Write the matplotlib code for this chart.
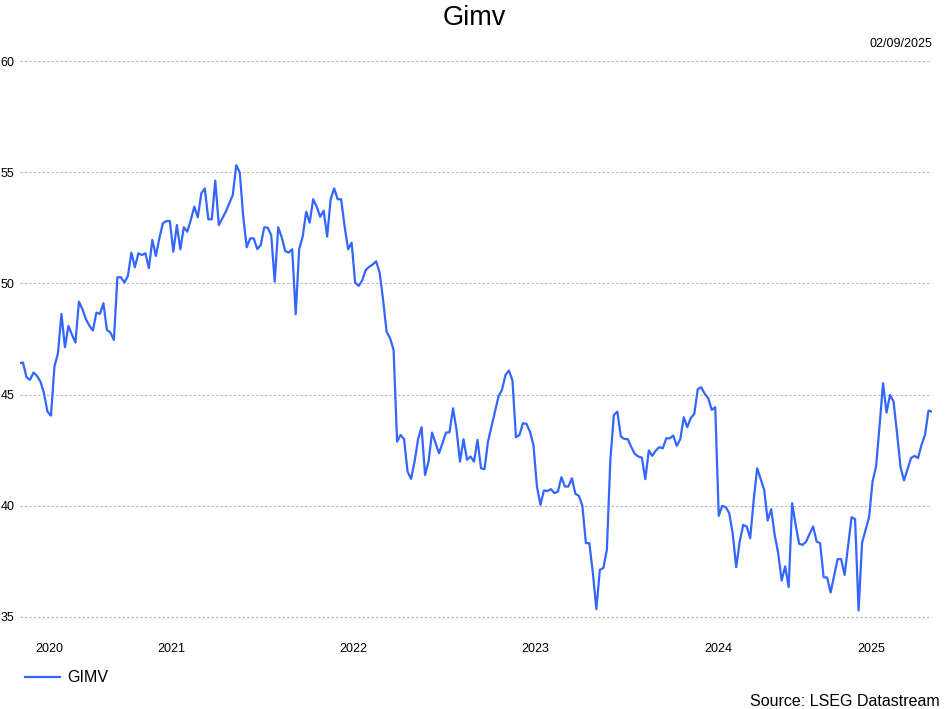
import matplotlib
matplotlib.use("Agg")
import matplotlib.pyplot as plt
import matplotlib.dates as mdates
import pandas as pd
import numpy as np

plt.rcParams['font.family'] = ['Liberation Sans', 'DejaVu Sans']

# ---- data ----
title = "Gimv"
series_name = "GIMV"
date_label = "02/09/2025"
source_label = "Source: LSEG Datastream"
start_date = "2020-09-02"
n_weeks = 262
year_labels = ["2020", "2021", "2022", "2023", "2024", "2025"]
y_ticks = [35, 40, 45, 50, 55, 60]

gimv_values = [
    46.41, 46.44, 45.78, 45.66, 45.99, 45.84, 45.58, 45.06, 44.23, 44.05,
    46.26, 46.86, 48.63, 47.13, 48.09, 47.70, 47.34, 49.18, 48.84, 48.39,
    48.10, 47.88, 48.69, 48.63, 49.11, 47.91, 47.79, 47.46, 50.28, 50.28,
    50.04, 50.34, 51.39, 50.73, 51.36, 51.28, 51.36, 50.69, 51.96, 51.24,
    52.03, 52.71, 52.81, 52.81, 51.43, 52.63, 51.54, 52.53, 52.33, 52.86,
    53.46, 52.98, 54.06, 54.28, 52.89, 52.89, 54.63, 52.63, 52.93, 53.23,
    53.60, 53.98, 55.33, 54.99, 53.00, 51.63, 52.03, 52.03, 51.55, 51.73,
    52.53, 52.51, 52.18, 50.08, 52.53, 52.08, 51.46, 51.39, 51.54, 48.61,
    51.54, 52.11, 53.23, 52.74, 53.79, 53.46, 53.00, 53.28, 52.11, 53.79,
    54.28, 53.79, 53.79, 52.56, 51.54, 51.84, 50.04, 49.89, 50.13, 50.60,
    50.75, 50.85, 51.00, 50.50, 49.26, 47.83, 47.53, 47.01, 42.88, 43.18,
    42.99, 41.53, 41.20, 41.98, 42.99, 43.53, 41.38, 41.98, 43.29, 42.81,
    42.36, 42.81, 43.29, 43.30, 44.38, 43.41, 41.98, 42.99, 42.06, 42.21,
    41.98, 42.96, 41.68, 41.64, 42.88, 43.56, 44.23, 44.91, 45.21, 45.88,
    46.08, 45.63, 43.08, 43.18, 43.71, 43.68, 43.33, 42.73, 40.86, 40.03,
    40.68, 40.66, 40.74, 40.56, 40.63, 41.28, 40.86, 40.86, 41.23, 40.53,
    40.44, 39.99, 38.31, 38.31, 36.96, 35.34, 37.11, 37.19, 38.01, 42.06,
    44.08, 44.23, 43.11, 43.00, 42.99, 42.63, 42.33, 42.21, 42.16, 41.19,
    42.48, 42.24, 42.48, 42.63, 42.58, 43.03, 43.03, 43.15, 42.69, 42.99,
    43.98, 43.53, 43.94, 44.13, 45.24, 45.33, 45.03, 44.84, 44.31, 44.43,
    39.54, 39.99, 39.93, 39.66, 38.73, 37.23, 38.38, 39.13, 39.06, 38.53,
    40.26, 41.68, 41.19, 40.71, 39.33, 39.84, 38.68, 37.86, 36.63, 37.26,
    36.33, 40.11, 39.13, 38.28, 38.23, 38.38, 38.73, 39.06, 38.38, 38.31,
    36.78, 36.76, 36.09, 36.84, 37.59, 37.59, 36.88, 38.16, 39.48, 39.39,
    35.28, 38.33, 38.91, 39.48, 41.08, 41.76, 43.59, 45.51, 44.19, 44.98,
    44.68, 43.26, 41.73, 41.13, 41.64, 42.14, 42.24, 42.14, 42.73, 43.18,
    44.28, 44.23,
]

dates = pd.date_range(start_date, periods=len(gimv_values), freq="7D")

# ---- figure ----
W, H = 949, 709
fig = plt.figure(figsize=(W / 100, H / 100), dpi=100)
ax = fig.add_axes([19.5 / W, 1 - 630 / H, (932 - 19.5) / W, (630 - 56.9) / H])

line_color = "#3366ff"
ax.plot(dates, gimv_values, color=line_color, lw=1.6, label=series_name,
        solid_joinstyle="round")

xmin, xmax = dates[0], dates[-1]
ax.set_xlim(xmin, xmax)
ax.set_ylim(34.4, 60.2)

# year labels centred in the visible part of each year
tick_pos = []
for lab in year_labels:
    y = int(lab)
    s = max(pd.Timestamp(f"{y}-01-01"), xmin)
    e = min(pd.Timestamp(f"{y + 1}-01-01"), xmax)
    tick_pos.append(s + (e - s) / 2)
ax.set_xticks(tick_pos)
ax.set_xticklabels(year_labels)
ax.set_yticks(y_ticks)
ax.set_yticklabels([str(v) for v in y_ticks])

ax.tick_params(axis="both", length=0, labelsize=9, colors="black")
ax.tick_params(axis="x", pad=9)
ax.tick_params(axis="y", pad=3.5)

ax.grid(axis="y", color="#b4b4b4", lw=0.8, linestyle=(0, (2, 2)))
ax.grid(axis="x", visible=False)
for sp in ax.spines.values():
    sp.set_visible(False)

fig.text(474 / W, 1 - 18 / H, title, ha="center", va="center", fontsize=19.5)
fig.text(932 / W, 1 - 44 / H, date_label, ha="right", va="center", fontsize=9)
fig.text(940 / W, 1 - 701 / H, source_label, ha="right", va="center", fontsize=11.5)

fig.legend(loc="center left", bbox_to_anchor=(25 / W, 1 - 678 / H),
           frameon=False, fontsize=11.5, borderpad=0, borderaxespad=0,
           handlelength=2.2, handletextpad=0.45)

fig.savefig("out.png", dpi=100)
